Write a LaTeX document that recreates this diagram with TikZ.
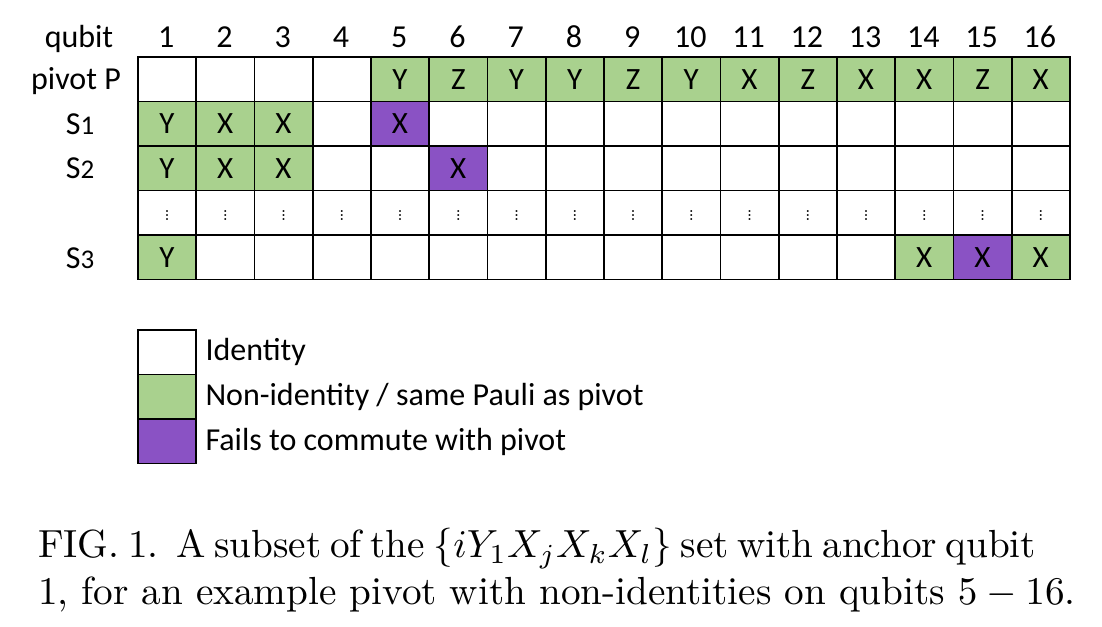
\documentclass[tikz,border=0pt]{standalone}
\usepackage{fontspec}
\setsansfont{Carlito}
\definecolor{gr}{HTML}{A9D18E}
\definecolor{pu}{HTML}{8A52C4}
\newlength{\lineb}
\newlength{\linea}
\begin{document}
\begin{tikzpicture}[x=1pt,y=-1pt,
  cellbox/.style={draw=black,line width=1.8pt,minimum width=58.25pt,minimum height=44.5pt,inner sep=0,anchor=north west,font=\sffamily\fontsize{31}{34}\selectfont},
  lab/.style={font=\sffamily\fontsize{32}{34}\selectfont}]
\useasboundingbox (0,0) rectangle (1102,626);
\def\cw{58.25}
\node[lab,anchor=base] (q) at (79,48) {qubit};
\foreach \i in {1,...,16}{\node[lab,anchor=base] (h\i) at ({137+(\i-0.5)*\cw},48) {\i};}
\node[lab,anchor=base] (pv) at (76,89) {pivot P};
\node[lab,anchor=base] (s1) at (80,134) {S\fontsize{27}{28}\selectfont 1};
\node[lab,anchor=base] (s2) at (80,178) {S\fontsize{27}{28}\selectfont 2};
\node[lab,anchor=base] (s3) at (80,268) {S\fontsize{27}{28}\selectfont 3};
\def\rowA{{"","","","","Y","Z","Y","Y","Z","Y","X","Z","X","X","Z","X"}}
\foreach \i in {1,...,16}{
 \pgfmathsetmacro{\xx}{137+(\i-1)*\cw}
 \pgfmathparse{\rowA[\i-1]}\let\t\pgfmathresult
 \ifnum\i>4 \node[cellbox,fill=gr] (p\i) at (\xx,56) {\t};\else\node[cellbox,fill=white] (p\i) at (\xx,56) {};\fi
 \node[cellbox] (a\i) at (\xx,100.5) {};
 \node[cellbox] (b\i) at (\xx,145) {};
 \node[cellbox,font=\fontsize{24}{24}\selectfont] (d\i) at (\xx,189.5) {$\vdots$};
 \node[cellbox] (c\i) at (\xx,234) {};
}
\foreach \i/\t in {1/Y,2/X,3/X}{\node[cellbox,fill=gr] at (a\i.north west) {\t};\node[cellbox,fill=gr] at (b\i.north west) {\t};}
\node[cellbox,fill=pu] at (a5.north west) {X};
\node[cellbox,fill=pu] at (b6.north west) {X};
\node[cellbox,fill=gr] at (c1.north west) {Y};
\node[cellbox,fill=gr] at (c14.north west) {X};
\node[cellbox,fill=pu] at (c15.north west) {X};
\node[cellbox,fill=gr] at (c16.north west) {X};
\node[cellbox] (l1) at (137,329) {};
\node[cellbox,fill=gr] (l2) at (137,373.5) {};
\node[cellbox,fill=pu] (l3) at (137,418) {};
\node[lab,anchor=west] (t1) at (202,352) {Identity};
\node[lab,anchor=west] (t2) at (202,397) {Non-identity / same Pauli as pivot};
\node[lab,anchor=west] (t3) at (202,442) {Fails to commute with pivot};
\settowidth{\lineb}{1, for an example pivot with non-identities on qubits $5-16$.}
\setlength{\linea}{1.0147\lineb}
\node[anchor=north west,inner sep=0] (cap) at (38,524)
 {\resizebox{1037pt}{!}{\begin{tabular}{@{}l@{}}\makebox[\linea][s]{FIG. 1.\ \ A subset of the $\{iY_1X_jX_kX_l\}$ set with anchor qubit}\\ 1, for an example pivot with non-identities on qubits $5-16$.\end{tabular}}};
\end{tikzpicture}
\end{document}
